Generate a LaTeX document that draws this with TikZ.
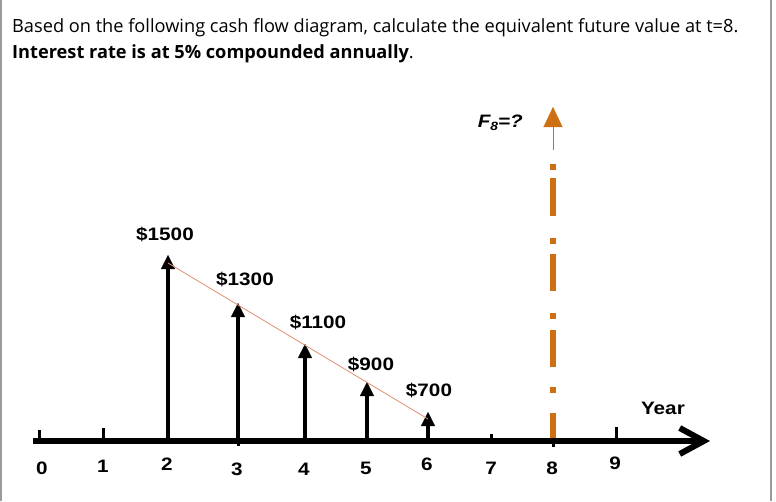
\documentclass[tikz,border=0pt]{standalone}
\usepackage{fontspec}
\setmainfont{Liberation Sans}
\newfontfamily\questionfont{Open Sans}
\newfontfamily\flowfont{Liberation Sans}[FakeStretch=1.15]
\usetikzlibrary{positioning,arrows.meta}

\definecolor{futureorange}{RGB}{205,112,20}
\definecolor{trendorange}{RGB}{224,146,112}
\definecolor{framegray}{RGB}{155,155,155}

\tikzset{
    question/.style={%
        anchor=base west, inner sep=0pt,
        font=\questionfont\fontsize{18.2}{22}\selectfont
        },
    yearlabel/.style={inner sep=0pt, font=\flowfont\bfseries\fontsize{18}{18}\selectfont},
    amount/.style={inner sep=0pt, font=\flowfont\bfseries\fontsize{18}{18}\selectfont},
    cashflow/.style={line width=4.5pt, -{Triangle[width=14pt,length=14pt,line width=0.1pt]}},
    timeaxis/.style={line width=6pt, -{Straight Barb[length=24pt,width=26pt]}},
    yeartick/.style={line width=3pt},
    future/.style={%
        draw=futureorange, line width=6pt,
        dash pattern=on 28pt off 20pt on 6pt off 20pt on 37pt off 11pt on 6pt off 22pt
                     on 37pt off 10pt on 6pt off 22pt on 38pt off 8pt on 6pt off 80pt
        },
    futurehead/.style={draw=futureorange, line width=0.1pt, -{Triangle[width=19pt,length=20pt]}},
    trend/.style={draw=trendorange, line width=0.8pt}
}

\begin{document}
\begin{tikzpicture}[x=1pt, y=-1pt]

\useasboundingbox (0,0) rectangle (776,501);

\draw[framegray, line width=1.2pt] (1,0) -- (1,501);
\draw[framegray, line width=1.2pt] (771,0) -- (771,501);

\node[question] (line1) at (12,32.5) {Based on the following cash flow diagram, calculate the equivalent future value at t=8.};

\node[question] (line2) at (12,58.5) {\bfseries Interest rate is at 5\% compounded annually\mdseries.};

\coordinate (axisstart) at (33,441);
\coordinate (axisend) at (710,441);

\coordinate (y0) at (39,441);
\coordinate (y1) at (103,441);
\coordinate (y2) at (168,441);
\coordinate (y3) at (238,441);
\coordinate (y4) at (305,441);
\coordinate (y5) at (367,441);
\coordinate (y6) at (428,441);
\coordinate (y7) at (491,441);
\coordinate (y8) at (553,441);
\coordinate (y9) at (616,441);

\coordinate (c2) at (168,255);
\coordinate (c3) at (238,303);
\coordinate (c4) at (305,344);
\coordinate (c5) at (367,382);
\coordinate (c6) at (428,412);
\coordinate (f8top) at (553,150);
\coordinate (f8tip) at (553,107);

\draw[yeartick] (y0) -- ++(0,-11);
\draw[yeartick] (y1) -- ++(0,-13);
\draw[yeartick] (y9) -- ++(0,-14);
\draw[yeartick] (y7) ++(0,-7) -- ++(0,10);
\draw[yeartick] (y3) -- ++(0,5);

\draw[future] (y8) -- (f8top);
\draw[futurehead] (f8top) -- (f8tip);
\draw[yeartick] (y8) -- ++(0,6);

\draw[timeaxis] (axisstart) -- (axisend);

\draw[cashflow] (y2) -- (c2);
\draw[cashflow] (y3) -- (c3);
\draw[cashflow] (y4) -- (c4);
\draw[cashflow] (y5) -- (c5);
\draw[cashflow] (y6) -- (c6);

\draw[trend] ([yshift=-8pt]c2) -- ([yshift=-7pt]c6);

\node[amount, above=13pt of c2, xshift=-3pt] (a2) {\$1500};
\node[amount, above=16pt of c3, xshift=7pt] (a3) {\$1300};
\node[amount, above=14pt of c4, xshift=13pt] (a4) {\$1100};
\node[amount, above=10pt of c5, xshift=4pt] (a5) {\$900};
\node[amount, above=14pt of c6, xshift=1pt] (a6) {\$700};

\node[yearlabel, below=21pt of y0, xshift=3pt] (n0) {0};
\node[yearlabel, below=19pt of y1] (n1) {1};
\node[yearlabel, below=17pt of y2, xshift=-1pt] (n2) {2};
\node[yearlabel, below=22pt of y3, xshift=-1pt] (n3) {3};
\node[yearlabel, below=22pt of y4, xshift=-1pt] (n4) {4};
\node[yearlabel, below=21pt of y5, xshift=-1pt] (n5) {5};
\node[yearlabel, below=17pt of y6, xshift=-1pt] (n6) {6};
\node[yearlabel, below=21pt of y7] (n7) {7};
\node[yearlabel, below=21pt of y8, xshift=-1pt] (n8) {8};
\node[yearlabel, below=16pt of y9, xshift=-1pt] (n9) {9};

\node[yearlabel, above left=26pt and 25pt of axisend] (yearname) {Year};

\node[yearlabel, font=\flowfont\bfseries\itshape\fontsize{18}{18}\selectfont, below left=8pt and 30pt of f8tip] (f8label) {F\raisebox{-0.3ex}{\fontsize{12}{12}\selectfont 8}=?};

\end{tikzpicture}
\end{document}
